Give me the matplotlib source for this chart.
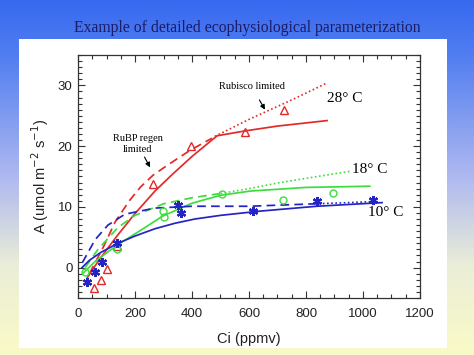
import numpy as np
import matplotlib
matplotlib.use("Agg")
import matplotlib.pyplot as plt
from matplotlib.patches import Rectangle
from matplotlib.ticker import MultipleLocator

# ---------------- data ----------------
red_solid_ci = [32, 60, 95, 140, 200, 270, 330, 400, 488, 586, 700, 874]
red_solid_A = [-1.7, 0.3, 2.6, 5.4, 8.9, 12.6, 15.3, 18.3, 21.7, 22.5, 23.3, 24.2]
red_dash_ci = [40, 90, 130, 180, 220, 263, 312, 393, 470]
red_dash_A = [-1.0, 3.5, 7.5, 11.0, 13.3, 15.2, 16.8, 19.3, 21.3]
red_dot_ci = [480, 600, 750, 874]
red_dot_A = [21.6, 24.4, 27.6, 30.4]

green_solid_ci = [18, 60, 105, 154, 225, 298, 400, 500, 604, 800, 1024]
green_solid_A = [-0.9, 1.0, 2.6, 4.2, 6.3, 8.5, 10.6, 11.9, 12.6, 13.2, 13.4]
green_dash_ci = [25, 70, 140, 200, 300, 400, 500]
green_dash_A = [0.0, 3.0, 6.6, 8.6, 10.5, 11.5, 12.2]
green_dot_ci = [500, 600, 709, 800, 961]
green_dot_A = [12.2, 13.0, 14.0, 14.7, 15.9]

blue_solid_ci = [14, 40, 80, 140, 200, 270, 340, 410, 500, 639, 838, 1067]
blue_solid_A = [0.0, 1.2, 2.5, 4.0, 5.2, 6.4, 7.3, 8.0, 8.6, 9.3, 10.1, 10.7]
blue_dash_ci = [15, 60, 105, 165, 270, 400, 600, 830]
blue_dash_A = [0.8, 4.6, 7.0, 8.8, 9.8, 10.1, 10.1, 10.5]
blue_dot_ci = [830, 950, 1050]
blue_dot_A = [10.5, 10.7, 10.9]

red_tri_ci = [57, 82, 101, 137, 263, 396, 586, 723]
red_tri_A = [-3.4, -2.0, -0.2, 3.5, 13.7, 20.0, 22.4, 26.0]
green_circ_ci = [25, 137, 298, 300, 505, 719, 895]
green_circ_A = [-0.8, 3.0, 9.3, 8.3, 12.1, 11.2, 12.2]
blue_ast_ci = [32, 60, 84, 137, 352, 361, 614, 838, 1036]
blue_ast_A = [-2.3, -0.7, 1.0, 4.1, 10.3, 9.0, 9.4, 11.0, 11.2]

x_ticks = [0, 200, 400, 600, 800, 1000, 1200]
y_ticks = [0, 10, 20, 30]

title = "Example of detailed ecophysiological parameterization"

# ---------------- figure ----------------
RED = "#e32a2a"
GREEN = "#3fdc3f"
BLUE = "#2424c4"

fig = plt.figure(figsize=(4.74, 3.55), dpi=100)

# gradient background
bg = fig.add_axes([0, 0, 1, 1], zorder=-10)
stops = np.array([0.0, 0.15, 0.5, 0.75, 1.0])
cols = np.array([[55, 105, 240], [80, 125, 240], [175, 185, 240],
                 [235, 238, 215], [250, 250, 200]]) / 255.0
t = np.linspace(0, 1, 356)
grad = np.stack([np.interp(t, stops, cols[:, i]) for i in range(3)], axis=-1)
bg.imshow(grad[:, None, :], aspect="auto", extent=[0, 1, 0, 1], origin="upper")
bg.set_axis_off()

# white panel
fig.patches.append(Rectangle((0.040, 0.0197), 0.903, 0.870, transform=fig.transFigure,
                             facecolor="white", edgecolor="none", zorder=-5))

fig.text(0.521, 0.921, title, ha="center", va="center",
         family="Liberation Serif", fontsize=11.3, color="#1c1c66")

ax = fig.add_axes([0.1646, 0.1606, 0.7214, 0.6845])
ax.set_facecolor("white")

lw = 1.25
ax.plot(red_solid_ci, red_solid_A, color=RED, lw=lw)
ax.plot(red_dash_ci, red_dash_A, color=RED, lw=lw, dashes=(5, 3))
ax.plot(red_dot_ci, red_dot_A, color=RED, lw=1.2, dashes=(1, 1.5))
ax.plot(green_solid_ci, green_solid_A, color=GREEN, lw=lw)
ax.plot(green_dash_ci, green_dash_A, color=GREEN, lw=lw, dashes=(5, 3))
ax.plot(green_dot_ci, green_dot_A, color=GREEN, lw=1.2, dashes=(1, 1.5))
ax.plot(blue_solid_ci, blue_solid_A, color=BLUE, lw=lw)
ax.plot(blue_dash_ci, blue_dash_A, color=BLUE, lw=lw, dashes=(5, 3))
ax.plot(blue_dot_ci, blue_dot_A, color=BLUE, lw=1.2, dashes=(1, 1.5))

ax.plot(red_tri_ci, red_tri_A, ls="none", marker="^", ms=5.5, mfc="none", mec=RED, mew=1.0)
ax.plot(green_circ_ci, green_circ_A, ls="none", marker="o", ms=5, mfc="none", mec=GREEN, mew=1.0)
ax.plot(blue_ast_ci, blue_ast_A, ls="none", marker=(6, 2, 0), ms=6.5, mec=BLUE, mew=1.6)

ax.set_xlim(0, 1200)
ax.set_ylim(-5, 35)
ax.set_xticks(x_ticks)
ax.set_yticks(y_ticks)
ax.xaxis.set_minor_locator(MultipleLocator(50))
ax.yaxis.set_minor_locator(MultipleLocator(1))
ax.tick_params(which="both", direction="in", top=True, right=True, color="#333333", width=0.8)
ax.tick_params(which="major", length=5)
ax.tick_params(which="minor", length=3)
ax.tick_params(axis="x", pad=7)
ax.tick_params(axis="y", pad=4)
for lab in ax.get_xticklabels() + ax.get_yticklabels():
    lab.set_family("Liberation Sans")
    lab.set_fontsize(9.5)
    lab.set_color("#222222")
for s in ax.spines.values():
    s.set_color("#333333")
    s.set_linewidth(0.9)

ax.set_xlabel("Ci (ppmv)", family="Liberation Sans", fontsize=10.5, color="#222222")
ax.set_ylabel("A (umol m$^{-2}$ s$^{-1}$)", family="Liberation Sans", fontsize=10.5, color="#222222")
ax.xaxis.set_label_coords(0.5, -0.14)
ax.yaxis.set_label_coords(-0.078, 0.5)

# annotations
ax.annotate("Rubisco limited", xy=(656, 26.0), xytext=(610, 29.8),
            ha="center", va="center", family="Liberation Serif", fontsize=7.5,
            arrowprops=dict(arrowstyle="-|>", lw=0.8, color="black",
                            mutation_scale=7, shrinkA=5, shrinkB=0))
ax.annotate("RuBP regen\nlimited", xy=(253, 16.5), xytext=(209, 20.3),
            ha="center", va="center", family="Liberation Serif", fontsize=7.5,
            linespacing=1.3,
            arrowprops=dict(arrowstyle="-|>", lw=0.8, color="black",
                            mutation_scale=7, shrinkA=10, shrinkB=0))
ax.text(937, 27.8, "28° C", ha="center", va="center", family="Liberation Serif", fontsize=11)
ax.text(1025, 16.2, "18° C", ha="center", va="center", family="Liberation Serif", fontsize=11)
ax.text(1081, 9.1, "10° C", ha="center", va="center", family="Liberation Serif", fontsize=11)

fig.savefig("out.png", dpi=100)
